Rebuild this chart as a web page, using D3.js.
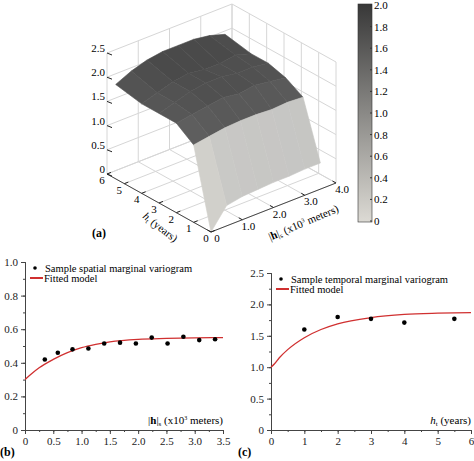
<!DOCTYPE html>
<html><head><meta charset="utf-8">
<script src="https://cdn.jsdelivr.net/npm/d3@7"></script>
<style>body{margin:0;background:#fff}svg, svg text{font-family:"Liberation Serif","Times New Roman",serif}</style>
</head><body><svg id="c" width="474" height="461"></svg>
<script>
// ---- data ----
const hsGrid=[0,0.5,1,1.5,2,2.5,3,3.5];
const htGrid=[0,1,2,3,4,5.5];
const surf=[
 [0,0.42,0.48,0.5,0.52,0.52,0.54,0.54],
 [1.6,1.65,1.7,1.72,1.72,1.7,1.72,1.7],
 [1.85,1.9,1.95,2.0,1.95,2.0,1.95,1.9],
 [1.85,1.95,2.05,2.1,2.1,2.05,2.05,2.0],
 [1.85,1.95,2.05,2.1,2.05,2.05,2.1,2.0],
 [1.95,2.1,2.2,2.25,2.25,2.25,2.2,2.1]];
const zTicks=[0,0.5,1.0,1.5,2.0,2.5];
const htTicks=[0,1,2,3,4,5,6];
const hsTicks=[0,1,2,3,4];
const cbTicks=[0,0.2,0.4,0.6,0.8,1.0,1.2,1.4,1.6,1.8,2.0];
const bX=[0.35,0.58,0.84,1.12,1.4,1.68,1.96,2.24,2.52,2.8,3.08,3.36];
const bY=[0.42,0.46,0.48,0.485,0.515,0.52,0.515,0.55,0.515,0.555,0.535,0.54];
const bFitX=[0,0.1,0.25,0.5,0.75,1,1.25,1.5,2,2.5,3,3.5];
const bFitY=[0.30,0.33,0.37,0.42,0.46,0.49,0.51,0.525,0.54,0.545,0.548,0.55];
const cX=[1,2,3,4,5.5];
const cY=[1.6,1.8,1.77,1.71,1.77];
const cFitX=[0,0.1,0.25,0.5,1,1.5,2,3,4,5,6];
const cFitY=[1.0,1.05,1.15,1.28,1.47,1.6,1.69,1.79,1.84,1.86,1.87];

const svg=d3.select("#c");
const SERIF='"Liberation Serif","Times New Roman",serif';
const O=[211,232];
const sx=d3.scaleLinear().domain([0,4]).range([0,1]);
const tx=d3.scaleLinear().domain([0,6]).range([0,1]);
const zs=d3.scaleLinear().domain([0,2.5]).range([0,121]);
const HS=[125,-49], HT=[-104,-58];
function P(hs,ht,z){const a=sx(hs),b=tx(ht);return [O[0]+a*HS[0]+b*HT[0],O[1]+a*HS[1]+b*HT[1]-zs(z)];}
const grid="#d6d6d6";
const g3=svg.append("g");
zTicks.forEach(z=>{
  g3.append("line").attr("x1",P(0,6,z)[0]).attr("y1",P(0,6,z)[1]).attr("x2",P(4,6,z)[0]).attr("y2",P(4,6,z)[1]).attr("stroke",grid);
  g3.append("line").attr("x1",P(4,6,z)[0]).attr("y1",P(4,6,z)[1]).attr("x2",P(4,0,z)[0]).attr("y2",P(4,0,z)[1]).attr("stroke",grid);
});
hsTicks.forEach(h=>{const a=P(h,6,0),b=P(h,6,2.5),c=P(h,0,0);
  g3.append("line").attr("x1",a[0]).attr("y1",a[1]).attr("x2",b[0]).attr("y2",b[1]).attr("stroke",grid);
  g3.append("line").attr("x1",a[0]).attr("y1",a[1]).attr("x2",c[0]).attr("y2",c[1]).attr("stroke",grid);});
htTicks.forEach(h=>{const a=P(4,h,0),b=P(4,h,2.5),c=P(0,h,0);
  g3.append("line").attr("x1",a[0]).attr("y1",a[1]).attr("x2",b[0]).attr("y2",b[1]).attr("stroke",grid);
  g3.append("line").attr("x1",a[0]).attr("y1",a[1]).attr("x2",c[0]).attr("y2",c[1]).attr("stroke",grid);});
const col=d3.scaleLinear().domain([0,2.0]).range(["#dcdad4","#383838"]).clamp(true);
const scol=d3.scaleLinear().domain([0,0.6,1.7,2.2]).range(["#d8d6d0","#c4c4c2","#606060","#484848"]).clamp(true);
const quads=[];
for(let i=0;i<htGrid.length-1;i++)for(let j=0;j<hsGrid.length-1;j++){
  quads.push({i,j,d:sx(hsGrid[j])+tx(htGrid[i])});
}
quads.sort((a,b)=>b.d-a.d);
quads.forEach(q=>{const {i,j}=q;
  const pts=[P(hsGrid[j],htGrid[i],surf[i][j]),P(hsGrid[j+1],htGrid[i],surf[i][j+1]),P(hsGrid[j+1],htGrid[i+1],surf[i+1][j+1]),P(hsGrid[j],htGrid[i+1],surf[i+1][j])];
  const c=scol(i===0?(surf[0][j]+surf[0][j+1])/2:(surf[i][j]+surf[i][j+1]+surf[i+1][j]+surf[i+1][j+1])/4);
  g3.append("polygon").attr("points",pts.map(p=>p.join(",")).join(" ")).attr("fill",c).attr("stroke",c).attr("stroke-width",0.6);
});
const axc="#222";
[[P(0,0,0),P(4,0,0)],[P(0,0,0),P(0,6,0)]].forEach(([a,b])=>g3.append("line").attr("x1",a[0]).attr("y1",a[1]).attr("x2",b[0]).attr("y2",b[1]).attr("stroke",axc).attr("stroke-width",0.8));
zTicks.forEach(z=>{const p=P(0,6,z);
  g3.append("line").attr("x1",p[0]).attr("y1",p[1]).attr("x2",p[0]+5).attr("y2",p[1]+2).attr("stroke",axc);
  g3.append("text").attr("x",p[0]-2).attr("y",p[1]-1).attr("text-anchor","end").attr("font-size",11).text(z===0?"0":z.toFixed(1));});
htTicks.forEach(h=>{const p=P(0,h,0);
  g3.append("line").attr("x1",p[0]).attr("y1",p[1]).attr("x2",p[0]+4).attr("y2",p[1]-1.6).attr("stroke",axc);
  g3.append("text").attr("x",p[0]-5).attr("y",p[1]+10).attr("text-anchor","middle").attr("font-size",11).text(h);});
hsTicks.forEach(h=>{const p=P(h,0,0);
  g3.append("line").attr("x1",p[0]).attr("y1",p[1]).attr("x2",p[0]-3.5).attr("y2",p[1]-2).attr("stroke",axc);
  g3.append("text").attr("x",p[0]+6).attr("y",p[1]+10).attr("text-anchor","middle").attr("font-size",11).text(h===0?"0":h.toFixed(1));});
const t1=g3.append("text").attr("transform","translate(158,230) rotate(38)").attr("text-anchor","middle").attr("font-size",11);
t1.append("tspan").attr("font-style","italic").text("h");t1.append("tspan").attr("font-size",7).attr("dy",2).text("t");t1.append("tspan").attr("dy",-2).text(" (years)");
const t2=g3.append("text").attr("transform","translate(305,226) rotate(-23)").attr("text-anchor","middle").attr("font-size",11);
t2.append("tspan").text("|");t2.append("tspan").attr("font-weight","bold").text("h");t2.append("tspan").text("|");t2.append("tspan").attr("font-size",7).attr("dy",2).text("s");
t2.append("tspan").attr("dy",-2).text(" (x10");t2.append("tspan").attr("font-size",6).attr("dy",-4).text("3");t2.append("tspan").attr("dy",4).text(" meters)");
svg.append("text").attr("x",92).attr("y",237).attr("font-size",12).attr("font-weight","bold").text("(a)");
const cb=d3.scaleLinear().domain([0,2.0]).range([221,5]);
const def=svg.append("defs").append("linearGradient").attr("id","gr").attr("x1",0).attr("y1",1).attr("x2",0).attr("y2",0);
def.append("stop").attr("offset",0).attr("stop-color",col(0));def.append("stop").attr("offset",1).attr("stop-color",col(2));
svg.append("rect").attr("x",358).attr("y",4).attr("width",14).attr("height",218).attr("fill","url(#gr)").attr("stroke","#333").attr("stroke-width",0.6);
cbTicks.forEach(v=>{svg.append("line").attr("x1",370).attr("x2",372).attr("y1",cb(v)).attr("y2",cb(v)).attr("stroke","#333");
  svg.append("text").attr("x",374).attr("y",cb(v)+4).attr("font-size",11).text(v===0?"0":v.toFixed(1));});

function panel(o){
  const g=svg.append("g");
  const x=d3.scaleLinear().domain(o.xd).range(o.xr), y=d3.scaleLinear().domain(o.yd).range(o.yr);
  g.append("g").attr("transform",`translate(0,${o.yr[0]})`).call(d3.axisBottom(x).tickValues(o.xt).tickSize(4).tickFormat(o.xf));
  g.append("g").attr("transform",`translate(${o.xr[0]},0)`).call(d3.axisLeft(y).tickValues(o.yt).tickSize(4).tickFormat(o.yf));
  g.append("g").attr("transform",`translate(0,${o.yr[0]})`).call(d3.axisBottom(x).tickValues(o.xm).tickSize(2).tickFormat(""));
  g.append("g").attr("transform",`translate(${o.xr[0]},0)`).call(d3.axisLeft(y).tickValues(o.ym).tickSize(2).tickFormat(""));
  g.selectAll("g").attr("font-family",SERIF).attr("font-size",11);
  g.selectAll(".domain").attr("stroke","#444");g.selectAll(".tick line").attr("stroke","#444");
  g.selectAll(".tick text").attr("fill","#222");
  g.append("path").datum(o.fx.map((v,i)=>[v,o.fy[i]])).attr("d",d3.line().x(d=>x(d[0])).y(d=>y(d[1])).curve(d3.curveMonotoneX)).attr("fill","none").attr("stroke","#d03030").attr("stroke-width",1.3);
  o.px.forEach((v,i)=>g.append("circle").attr("cx",x(v)).attr("cy",y(o.py[i])).attr("r",2.3).attr("fill","#000"));
  const lx=o.xr[0];
  g.append("circle").attr("cx",lx+10).attr("cy",o.yr[1]+6).attr("r",1.8);
  g.append("text").attr("x",lx+20).attr("y",o.yr[1]+10).attr("font-size",10.5).text(o.leg);
  g.append("line").attr("x1",lx+5).attr("x2",lx+18).attr("y1",o.yr[1]+16).attr("y2",o.yr[1]+16).attr("stroke","#d03030").attr("stroke-width",2);
  g.append("text").attr("x",lx+19).attr("y",o.yr[1]+20).attr("font-size",10.5).text("Fitted model");
  return g;
}
panel({xd:[0,3.5],xr:[25,223],yd:[0,1],yr:[430,262],xt:[0,0.5,1,1.5,2,2.5,3,3.5],xm:d3.range(0,3.51,0.25),yt:[0,0.2,0.4,0.6,0.8,1.0],ym:d3.range(0,1.01,0.1),
  xf:d=>d===0?"0":d.toFixed(1),yf:d=>d===0?"0":d.toFixed(1),fx:bFitX,fy:bFitY,px:bX,py:bY,leg:"Sample spatial marginal variogram"});
panel({xd:[0,6],xr:[271,471],yd:[0,2.5],yr:[430,273],xt:[0,1,2,3,4,5,6],xm:d3.range(0,6.01,0.5),yt:[0,0.5,1,1.5,2,2.5],ym:d3.range(0,2.51,0.25),
  xf:d=>d,yf:d=>d===0?"0":d.toFixed(1),fx:cFitX,fy:cFitY,px:cX,py:cY,leg:"Sample temporal marginal variogram"});
const bt=svg.append("text").attr("x",223).attr("y",424).attr("text-anchor","end").attr("font-size",11);
bt.append("tspan").text("|");bt.append("tspan").attr("font-weight","bold").text("h");bt.append("tspan").text("|");bt.append("tspan").attr("font-size",7).attr("dy",2).text("s");
bt.append("tspan").attr("dy",-2).text(" (x10");bt.append("tspan").attr("font-size",6).attr("dy",-4).text("3");bt.append("tspan").attr("dy",4).text(" meters)");
const ct=svg.append("text").attr("x",471).attr("y",424).attr("text-anchor","end").attr("font-size",11);
ct.append("tspan").attr("font-style","italic").text("h");ct.append("tspan").attr("font-size",7).attr("dy",2).text("t");ct.append("tspan").attr("dy",-2).text(" (years)");
svg.append("text").attr("x",0).attr("y",456).attr("font-size",12).attr("font-weight","bold").text("(b)");
svg.append("text").attr("x",238).attr("y",456).attr("font-size",12).attr("font-weight","bold").text("(c)");
</script></body></html>
